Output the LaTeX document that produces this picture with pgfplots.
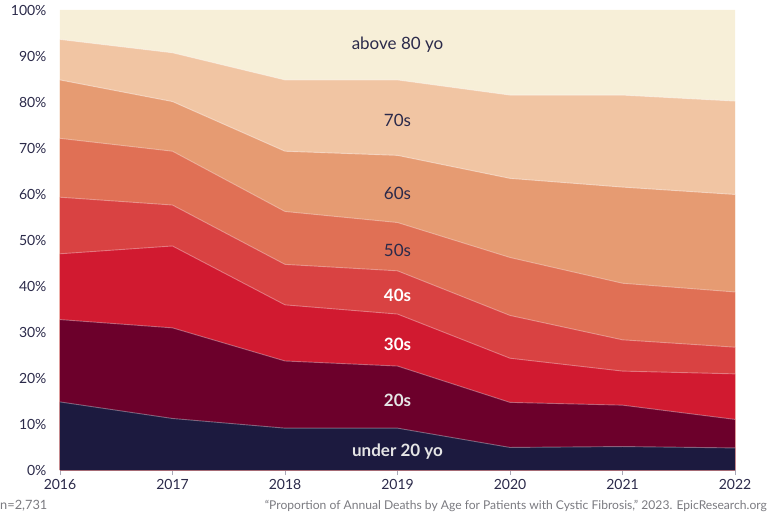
\documentclass[border=0pt]{standalone}
\usepackage{pgfplots}
\pgfplotsset{compat=1.18}
\usepackage{fontspec}
\setmainfont{Lato}
\definecolor{cA}{HTML}{1C1A3F}
\definecolor{cB}{HTML}{6C002B}
\definecolor{cC}{HTML}{D11A30}
\definecolor{cD}{HTML}{D94242}
\definecolor{cE}{HTML}{E07055}
\definecolor{cF}{HTML}{E69B72}
\definecolor{cG}{HTML}{F1C5A3}
\definecolor{cH}{HTML}{F7EFD8}
\definecolor{txt}{HTML}{2B2A4A}
\definecolor{note}{HTML}{7A7A80}
\definecolor{axl}{HTML}{A9A9B8}
\begin{document}
\begin{tikzpicture}
\begin{axis}[
  scale only axis, width=675pt, height=460pt,
  xmin=2016, xmax=2022, ymin=0, ymax=100,
  xtick={2016,2017,2018,2019,2020,2021,2022},
  ytick={0,10,...,100},
  x tick label style={/pgf/number format/1000 sep={}},
  yticklabel={\pgfmathprintnumber{\tick}\%},
  /pgf/number format/assume math mode=true,
  tick label style={font=\fontsize{14}{16}\selectfont, text=txt},
  axis x line*=bottom, axis y line*=left,
  x axis line style={draw=axl, line width=0.8pt, -},
  y axis line style={draw=none},
  xtick style={draw=axl, line width=0.8pt},
  ytick style={draw=none},
  tick align=outside, major tick length=5pt,
  yticklabel style={xshift=-5pt},
  xticklabel style={yshift=-1pt},
  clip=true,
]
% filled areas, drawn from the top down
\addplot[fill=cH, draw=none] coordinates {(2016,100) (2017,100) (2018,100) (2019,100) (2020,100) (2021,100) (2022,100)} \closedcycle;
\addplot[fill=cG, draw=none] coordinates {(2016,93.6) (2017,90.7) (2018,84.8) (2019,84.8) (2020,81.5) (2021,81.5) (2022,80.2)} \closedcycle;
\addplot[fill=cF, draw=none] coordinates {(2016,84.8) (2017,80.1) (2018,69.3) (2019,68.4) (2020,63.4) (2021,61.5) (2022,59.9)} \closedcycle;
\addplot[fill=cE, draw=none] coordinates {(2016,72.1) (2017,69.3) (2018,56.2) (2019,53.8) (2020,46.2) (2021,40.6) (2022,38.7)} \closedcycle;
\addplot[fill=cD, draw=none] coordinates {(2016,59.3) (2017,57.6) (2018,44.7) (2019,43.3) (2020,33.6) (2021,28.3) (2022,26.7)} \closedcycle;
\addplot[fill=cC, draw=none] coordinates {(2016,47.0) (2017,48.7) (2018,35.9) (2019,33.9) (2020,24.3) (2021,21.5) (2022,20.9)} \closedcycle;
\addplot[fill=cB, draw=none] coordinates {(2016,32.7) (2017,30.9) (2018,23.7) (2019,22.6) (2020,14.7) (2021,14.1) (2022,11.0)} \closedcycle;
\addplot[fill=cA, draw=none] coordinates {(2016,14.8) (2017,11.2) (2018,9.1) (2019,9.1) (2020,4.9) (2021,5.1) (2022,4.8)} \closedcycle;
% boundary lines
\addplot[white, opacity=0.45, line width=0.9pt] coordinates {(2016,93.6) (2017,90.7) (2018,84.8) (2019,84.8) (2020,81.5) (2021,81.5) (2022,80.2)};
\addplot[white, opacity=0.45, line width=0.9pt] coordinates {(2016,84.8) (2017,80.1) (2018,69.3) (2019,68.4) (2020,63.4) (2021,61.5) (2022,59.9)};
\addplot[white, opacity=0.35, line width=0.9pt] coordinates {(2016,72.1) (2017,69.3) (2018,56.2) (2019,53.8) (2020,46.2) (2021,40.6) (2022,38.7)};
\addplot[white, opacity=0.35, line width=0.9pt] coordinates {(2016,59.3) (2017,57.6) (2018,44.7) (2019,43.3) (2020,33.6) (2021,28.3) (2022,26.7)};
\addplot[white, opacity=0.35, line width=0.9pt] coordinates {(2016,47.0) (2017,48.7) (2018,35.9) (2019,33.9) (2020,24.3) (2021,21.5) (2022,20.9)};
\addplot[white, opacity=0.35, line width=0.9pt] coordinates {(2016,32.7) (2017,30.9) (2018,23.7) (2019,22.6) (2020,14.7) (2021,14.1) (2022,11.0)};
\addplot[white, opacity=0.35, line width=0.9pt] coordinates {(2016,14.8) (2017,11.2) (2018,9.1) (2019,9.1) (2020,4.9) (2021,5.1) (2022,4.8)};
% labels
\begin{scope}[every node/.style={font=\fontsize{17}{19}\selectfont}]
\node[text=txt] at (axis cs:2019,92.4) {above 80 yo};
\node[text=txt] at (axis cs:2019,75.9) {70s};
\node[text=txt] at (axis cs:2019,60.2) {60s};
\node[text=txt] at (axis cs:2019,47.8) {50s};
\node[text=white] at (axis cs:2019,38.0) {\bfseries 40s};
\node[text=white] at (axis cs:2019,27.4) {\bfseries 30s};
\node[text=white!90!black] at (axis cs:2019,15.2) {\bfseries 20s};
\node[text=white!90!black] at (axis cs:2019,3.9) {\bfseries under 20 yo};
\end{scope}
\end{axis}
\node[anchor=base west, text=note, font=\fontsize{12.8}{14}\selectfont, inner sep=0pt] at ([shift={(-60pt,-39pt)}]current axis.south west) {n=2,731};
\node[anchor=base east, text=note, font=\fontsize{12.1}{14}\selectfont, inner sep=0pt] at ([shift={(32pt,-39pt)}]current axis.south east) {“Proportion of Annual Deaths by Age for Patients with Cystic Fibrosis,” 2023. EpicResearch.org};
\pgfresetboundingbox
\path ([shift={(-60pt,-42pt)}]current axis.south west) rectangle ([shift={(33pt,10pt)}]current axis.north east);
\end{tikzpicture}
\end{document}
